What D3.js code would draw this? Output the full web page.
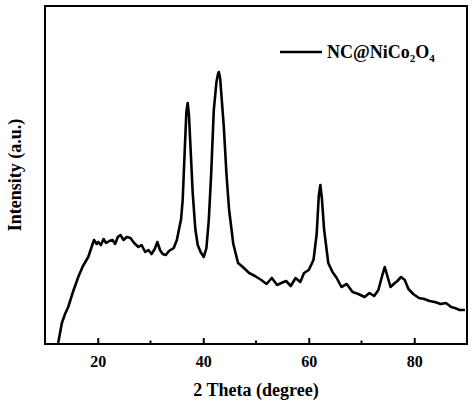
<!DOCTYPE html>
<html><head><meta charset="utf-8">
<script src="https://cdn.jsdelivr.net/npm/d3@7"></script>
<style>body{margin:0;background:#fff}svg{display:block}</style>
</head><body>
<svg id="c" width="474" height="408"></svg>
<script>
const twoTheta=[12.5,13.2,13.8,14.4,15.3,16.3,17.2,18.2,18.9,19.3,19.8,20.1,20.6,21.1,21.6,22.2,22.8,23.3,23.8,24.3,24.9,25.5,26.2,26.9,27.7,28.3,29.0,29.6,30.2,30.8,31.3,31.8,32.3,32.9,33.5,34.4,35.0,35.3,35.8,36.1,36.5,36.8,37.05,37.3,37.6,38.0,38.5,38.95,39.5,40.1,40.6,41.05,41.5,42.0,42.5,42.8,42.95,43.2,43.5,43.9,44.4,44.9,45.7,46.6,47.5,48.7,49.8,51.0,52.0,53.0,54.0,54.8,55.7,56.6,57.5,58.4,59.1,60.0,60.9,61.5,61.9,62.2,62.5,62.9,63.7,64.5,65.3,66.2,67.2,68.3,69.4,70.6,71.5,72.4,73.2,73.8,74.4,74.9,75.5,76.1,76.8,77.5,78.2,78.9,79.8,80.9,81.9,82.9,83.9,85.0,86.0,87.0,87.7,88.6,89.6];
const intensity=[1,21,30,37,52,67,78,87,98,104,100,102,99,105,101,103,104,100,107,109,104,107,106,101,97,99,92,94,90,95,102,94,90,89,93,96,104,112,125,144,195,232,241,228,195,151,115,99,92,87,96,124,170,234,262,270,272,266,245,217,170,134,100,81,77,71,68,64,60,66,59,61,63,58,66,62,71,74,84,110,148,159,145,115,81,72,66,57,60,52,50,47,51,48,54,66,77,68,57,60,63,67,64,55,50,46,45,43,42,40,41,37,36,34,34];
const xTicks=[20,40,60,80];
const xMinor=[30,50,70];
const seriesName="NC@NiCo";

const svg=d3.select("#c");
const L=45,R=467,T=6,B=344;
const x=d3.scaleLinear().domain([10,90]).range([L,R]);
const y=d3.scaleLinear().domain([0,338]).range([B,T]);
const font="'Liberation Serif','Times New Roman',serif";

svg.append("path").datum(twoTheta.map((d,i)=>[d,intensity[i]]))
  .attr("d",d3.line().x(d=>x(d[0])).y(d=>y(d[1])))
  .attr("fill","none").attr("stroke","#000").attr("stroke-width",2.6).attr("stroke-linejoin","round");

svg.append("rect").attr("x",L).attr("y",T).attr("width",R-L).attr("height",B-T)
  .attr("fill","none").attr("stroke","#000").attr("stroke-width",2);

const ax=svg.append("g").attr("transform",`translate(0,${B})`)
  .call(d3.axisBottom(x).tickValues(xTicks).tickSize(-6).tickPadding(12).tickFormat(d3.format("d")));
ax.select(".domain").remove();
ax.selectAll("line").attr("stroke-width",2);
ax.selectAll("text").attr("font-family",font).attr("font-size",16).attr("font-weight","bold").attr("fill","#000");
svg.append("g").selectAll("line").data(xMinor).join("line")
  .attr("x1",d=>x(d)).attr("x2",d=>x(d)).attr("y1",B).attr("y2",B-3.5).attr("stroke","#000").attr("stroke-width",2);

svg.append("text").attr("x",(L+R)/2).attr("y",396).attr("text-anchor","middle")
  .attr("font-family",font).attr("font-size",18).attr("font-weight","bold").text("2 Theta (degree)");
svg.append("text").attr("transform",`translate(21,${(T+B)/2}) rotate(-90)`).attr("text-anchor","middle")
  .attr("font-family",font).attr("font-size",18).attr("font-weight","bold").text("Intensity (a.u.)");

svg.append("line").attr("x1",280).attr("x2",322).attr("y1",52).attr("y2",52).attr("stroke","#000").attr("stroke-width",2.4);
const lt=svg.append("text").attr("x",327).attr("y",58).attr("font-family",font).attr("font-size",18).attr("font-weight","bold");
lt.append("tspan").text(seriesName);
lt.append("tspan").attr("font-size",11).attr("dy",4).text("2");
lt.append("tspan").attr("dy",-4).text("O");
lt.append("tspan").attr("font-size",11).attr("dy",4).text("4");
</script>
</body></html>
